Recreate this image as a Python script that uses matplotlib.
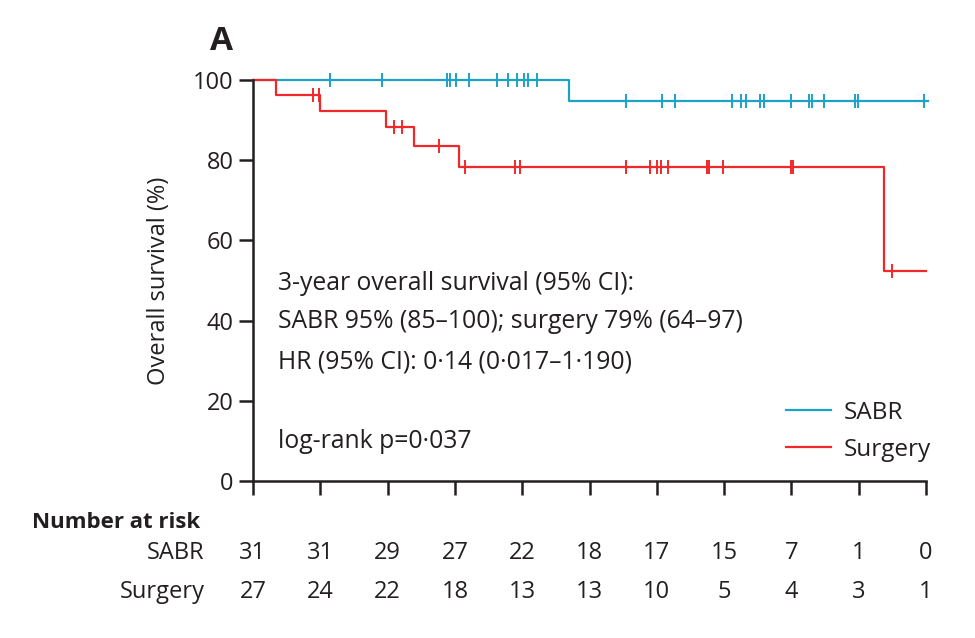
import numpy as np
import matplotlib
matplotlib.use("Agg")
import matplotlib.pyplot as plt

plt.rcParams['font.family'] = ['Open Sans', 'DejaVu Sans']

# Kaplan-Meier data (time in years, survival in %)
sabr_times = [0, 4.69]
sabr_surv = [100, 94.8]
sabr_end = 10.03
sabr_cens = [1.14, 1.92, 2.89, 2.93, 3.01, 3.21, 3.63, 3.79, 3.93, 4.02, 4.08,
             4.22, 5.54, 6.07, 6.27, 7.12, 7.25, 7.33, 7.53, 7.59, 7.99, 8.26,
             8.31, 8.49, 8.94, 8.99, 9.97]

surg_times = [0, 0.34, 0.99, 1.97, 2.39, 3.06, 9.38]
surg_surv = [100, 96.3, 92.3, 88.2, 83.6, 78.4, 52.3]
surg_end = 10.0
surg_cens = [0.89, 0.98, 2.10, 2.21, 2.76, 3.15, 3.90, 3.97, 5.54, 5.90, 6.0,
             6.06, 6.16, 6.74, 6.78, 6.98, 7.99, 8.03, 9.49]

risk_times = [0, 1, 2, 3, 4, 5, 6, 7, 8, 9, 10]
risk_sabr = [31, 31, 29, 27, 22, 18, 17, 15, 7, 1, 0]
risk_surg = [27, 24, 22, 18, 13, 13, 10, 5, 4, 3, 1]

notes = ['3-year overall survival (95% CI):',
         'SABR 95% (85\u2013100); surgery 79% (64\u201397)',
         'HR (95% CI): 0\u00b714 (0\u00b7017\u20131\u00b7190)']

blue = '#1ca2c8'
red = '#f0282a'
dark = '#231f20'


def level_at(times, surv, t):
    i = np.searchsorted(times, t, side='right') - 1
    return np.array(surv)[i]


def yfrac(ypix):
    # pixel row in the figure -> axes fraction
    return (481 - ypix) / 401


fig = plt.figure(figsize=(9.75, 6.38), dpi=100)
ax = fig.add_axes([253/975, 1-481/638, 673/975, 401/638])

for times, surv, end, cens, col, lab in [
        (sabr_times, sabr_surv, sabr_end, sabr_cens, blue, 'SABR'),
        (surg_times, surg_surv, surg_end, surg_cens, red, 'Surgery')]:
    x = list(times) + [end]
    y = list(surv) + [surv[-1]]
    ax.step(x, y, where='post', color=col, lw=1.6, clip_on=False, label=lab)
    cy = [level_at(times, surv, t) for t in cens]
    ax.plot(cens, cy, ls='none', marker='|', ms=10, mew=1.4, color=col,
            clip_on=False)

ax.set_xlim(0, 10)
ax.set_ylim(0, 100)
ax.set_xticks(risk_times)
ax.set_xticklabels([])
ax.set_yticks([0, 20, 40, 60, 80, 100])
for s in ['top', 'right']:
    ax.spines[s].set_visible(False)
for s in ['left', 'bottom']:
    ax.spines[s].set_linewidth(1.8)
    ax.spines[s].set_color(dark)
ax.tick_params(axis='both', length=10, width=1.8, color=dark, labelsize=17,
               labelcolor=dark, pad=4)
ax.set_ylabel('Overall survival (%)', fontsize=17, color=dark)
ax.yaxis.set_label_coords(-0.122, 0.5)

for txt, yy in zip(notes, [283, 322, 362]):
    ax.text(0.037, yfrac(yy), txt, transform=ax.transAxes, fontsize=17.8,
            color=dark, va='center')
ax.text(0.037, yfrac(441), 'log-rank p=0\u00b7037', transform=ax.transAxes,
        fontsize=17.8, color=dark, va='center')

ax.legend(loc='lower right', bbox_to_anchor=(1.025, 0.018), frameon=False,
          fontsize=17.5, handlelength=1.85, handletextpad=0.5,
          labelspacing=0.52, borderpad=0, labelcolor=dark)

fig.text(221/975, 1-42/638, 'A', fontsize=24, fontweight='bold', color=dark,
         ha='center', va='center')

# number at risk table
tr = ax.get_xaxis_transform()
ax.text((32-253)/673, yfrac(522), 'Number at risk', transform=ax.transAxes,
        fontsize=16, fontweight='bold', color=dark, va='center', ha='left')
for row, vals, yy in [('SABR', risk_sabr, 553), ('Surgery', risk_surg, 592)]:
    ya = yfrac(yy)
    ax.text(-0.072, ya, row, transform=ax.transAxes, fontsize=17,
            color=dark, ha='right', va='center')
    for t, v in zip(risk_times, vals):
        ax.text(t, ya, str(v), transform=tr, fontsize=17, color=dark,
                ha='center', va='center', clip_on=False)

fig.savefig('out.png', dpi=100)
